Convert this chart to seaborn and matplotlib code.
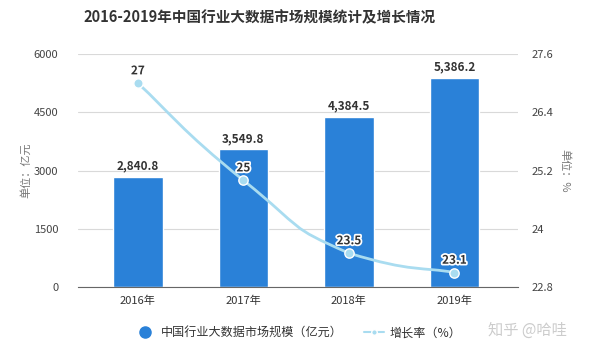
import numpy as np
import pandas as pd
import seaborn as sns
import matplotlib.pyplot as plt
from matplotlib.path import Path
from matplotlib.patches import PathPatch
from matplotlib.lines import Line2D
import matplotlib.patheffects as pe

years = ["2016年", "2017年", "2018年", "2019年"]
market_size = [2840.8, 3549.8, 4384.5, 5386.2]
growth_rate = [27, 25, 23.5, 23.1]
size_labels = ["2,840.8", "3,549.8", "4,384.5", "5,386.2"]
rate_labels = ["27", "25", "23.5", "23.1"]

sns.set_style("white")
plt.rcParams['font.family'] = ['Noto Sans CJK SC', 'DejaVu Sans']

bar_color = "#2a81d8"
line_color = "#a9dcf0"

df = pd.DataFrame({"year": years, "size": market_size, "rate": growth_rate})

fig = plt.figure(figsize=(5.89, 3.51), dpi=100)
ax = fig.add_axes([0.132, 0.182, 0.747, 0.664])

sns.barplot(data=df, x="year", y="size", color=bar_color, width=0.47,
            saturation=1, ax=ax, zorder=2)
ax.set_xlim(-0.57, 3.6)
ax.set_ylim(0, 6000)
ax.set_yticks([0, 1500, 3000, 4500, 6000])
ax.grid(axis="y", color="#d9d9d9", linewidth=0.8, zorder=0)
for s in ["left", "right", "top"]:
    ax.spines[s].set_visible(False)
ax.spines["bottom"].set_color("#666666")
ax.tick_params(axis="x", length=4, color="#666666", labelsize=8, labelcolor="#333333", pad=2)
ax.tick_params(axis="y", length=0, labelsize=8, labelcolor="#444444", pad=14)
ax.set_xlabel("")
ax.set_ylabel("单位：亿元", fontsize=8, color="#777777", labelpad=2)

for i, v in enumerate(market_size):
    ax.text(i, v + 110, size_labels[i], ha="center", va="bottom", fontsize=8.5,
            fontweight="bold", color="#333333", zorder=5)

ax2 = ax.twinx()
ax2.set_ylim(22.8, 27.6)
ax2.set_yticks([22.8, 24, 25.2, 26.4, 27.6])
ax2.set_yticklabels(["22.8", "24", "25.2", "26.4", "27.6"])
for s in ["left", "right", "top", "bottom"]:
    ax2.spines[s].set_visible(False)
ax2.tick_params(axis="y", length=0, labelsize=8, labelcolor="#444444", pad=10)
ax2.set_ylabel("单位：%", fontsize=8, color="#777777", rotation=270, labelpad=12)

# smooth connecting curve (bezier through the data points, no overshoot)
xs = np.arange(len(growth_rate), dtype=float)
ys = np.array(growth_rate, dtype=float)
verts = [(xs[0], ys[0])]
codes = [Path.MOVETO]
t = 0.3
for i in range(len(xs) - 1):
    p0 = (xs[max(i - 1, 0)], ys[max(i - 1, 0)])
    p1 = (xs[i], ys[i])
    p2 = (xs[i + 1], ys[i + 1])
    p3 = (xs[min(i + 2, len(xs) - 1)], ys[min(i + 2, len(xs) - 1)])
    lo, hi = min(p1[1], p2[1]), max(p1[1], p2[1])
    c1 = (p1[0] + (p2[0] - p0[0]) * t, np.clip(p1[1] + (p2[1] - p0[1]) * t, lo, hi))
    c2 = (p2[0] - (p3[0] - p1[0]) * t, np.clip(p2[1] - (p3[1] - p1[1]) * t, lo, hi))
    verts += [c1, c2, p2]
    codes += [Path.CURVE4] * 3
ax2.add_patch(PathPatch(Path(verts, codes), facecolor="none", edgecolor=line_color,
                        linewidth=2, zorder=3))
sns.scatterplot(x=xs, y=ys, ax=ax2, color=line_color, s=45, edgecolor="white",
                linewidth=1, zorder=4)

for i, v in enumerate(growth_rate):
    ax2.text(i, v + 0.12, rate_labels[i], ha="center", va="bottom", fontsize=8.5,
             fontweight="bold", color="#333333", zorder=6,
             path_effects=[pe.withStroke(linewidth=2.5, foreground="white")])

fig.text(0.44, 0.95, "2016-2019年中国行业大数据市场规模统计及增长情况", ha="center",
         va="center", fontsize=10.5, fontweight="bold", color="#333333")

handles = [
    Line2D([], [], marker="o", linestyle="none", markersize=8, color=bar_color),
    Line2D([], [], marker="o", linestyle="-", markersize=4, color=line_color,
           linewidth=1.5, markeredgecolor="white"),
]
fig.legend(handles, ["中国行业大数据市场规模（亿元）", "增长率（%）"], loc="center",
           bbox_to_anchor=(0.507, 0.052), ncol=2, frameon=False, fontsize=8.7,
           handlelength=1.6, columnspacing=1.8, handletextpad=0.5,
           labelcolor="#333333")

fig.text(0.895, 0.058, "知乎 @哈哇", ha="center", va="center", fontsize=11,
         color="#cccccc")

fig.savefig("out.png", dpi=100)
